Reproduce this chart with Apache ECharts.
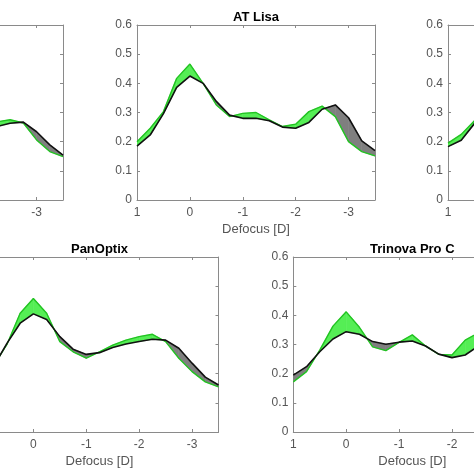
<!DOCTYPE html>
<html>
<head>
<meta charset="utf-8">
<script src="https://cdn.jsdelivr.net/npm/echarts@6/dist/echarts.min.js"></script>
<style>
html,body{margin:0;padding:0;background:#fff;}
#chart{width:474px;height:474px;}
</style>
</head>
<body>
<div id="chart"></div>
<script>
// Defocus sample positions [D]
var defocus = [1, 0.75, 0.5, 0.25, 0, -0.25, -0.5, -0.75, -1, -1.25, -1.5, -1.75, -2, -2.25, -2.5, -2.75, -3, -3.25, -3.5];
var xTicks = [1, 0, -1, -2, -3];
var yTicks = [0, 0.1, 0.2, 0.3, 0.4, 0.5, 0.6];

// Top-left panel (title cut off)
var lensA_black = [0.190,0.230,0.290,0.370,0.410,0.380,0.330,0.290,0.270,0.260,0.255,0.250,0.248,0.252,0.263,0.267,0.234,0.189,0.154];
var lensA_green = [0.200,0.250,0.300,0.400,0.450,0.380,0.320,0.280,0.280,0.275,0.265,0.262,0.265,0.268,0.275,0.264,0.206,0.166,0.149];
// AT Lisa
var lisa_black = [0.185,0.223,0.296,0.386,0.425,0.400,0.338,0.291,0.280,0.280,0.272,0.250,0.246,0.266,0.311,0.326,0.282,0.203,0.169];
var lisa_green = [0.200,0.246,0.303,0.417,0.466,0.400,0.326,0.286,0.297,0.300,0.275,0.252,0.260,0.303,0.322,0.286,0.200,0.166,0.151];
// Top-right panel (title cut off)
var lensC_black = [0.183,0.205,0.262,0.330,0.380,0.360,0.320,0.290,0.280,0.275,0.270,0.262,0.258,0.262,0.280,0.290,0.260,0.200,0.165];
var lensC_green = [0.195,0.225,0.272,0.360,0.420,0.370,0.310,0.285,0.290,0.290,0.275,0.262,0.270,0.295,0.305,0.275,0.210,0.170,0.150];
// PanOptix
var panoptix_black = [0.190,0.225,0.304,0.373,0.405,0.386,0.327,0.284,0.266,0.272,0.290,0.302,0.310,0.318,0.315,0.287,0.236,0.188,0.161];
var panoptix_green = [0.200,0.228,0.300,0.407,0.458,0.407,0.310,0.275,0.253,0.275,0.298,0.315,0.327,0.335,0.310,0.253,0.207,0.172,0.155];
// Trinova Pro C
var trinova_black = [0.195,0.224,0.275,0.319,0.344,0.335,0.310,0.301,0.308,0.312,0.295,0.267,0.255,0.264,0.295,0.310,0.270,0.205,0.168];
var trinova_green = [0.172,0.207,0.281,0.363,0.412,0.359,0.292,0.279,0.307,0.333,0.295,0.266,0.264,0.315,0.340,0.300,0.220,0.172,0.152];

var panels = [
  {title: '', black: lensA_black, green: lensA_green, left: -175, top: 25, xname: 'Defocus [D]'},
  {title: 'AT Lisa', black: lisa_black, green: lisa_green, left: 137, top: 25, xname: 'Defocus [D]'},
  {title: '', black: lensC_black, green: lensC_green, left: 448, top: 25, xname: 'Defocus [D]'},
  {title: 'PanOptix', black: panoptix_black, green: panoptix_green, left: -19.5, top: 257, xname: 'Defocus [D]'},
  {title: 'Trinova Pro C', black: trinova_black, green: trinova_green, left: 293.3, top: 257, xname: 'Defocus [D]'}
];

var FONT = "'Liberation Sans', Arial, sans-serif";
var AXIS_COLOR = '#8a8a8a';
var LABEL_COLOR = '#555555';
var GREEN_FILL = '#55ee55';
var GREEN_LINE = '#22c322';
var GRAY_FILL = '#7f7f7f';
var BLACK_LINE = '#111111';

function fmtY(v){ return String(+(+v).toFixed(1)); }

var grids = [], xAxes = [], yAxes = [], series = [];
panels.forEach(function(p, i){
  grids.push({left: p.left, top: p.top, width: 238, height: 175, containLabel: false, outerBoundsMode: 'none'});
  var common = {
    type: 'value', gridIndex: i, min: -3.5, max: 1, inverse: true,
    axisLine: {show: true, onZero: false, lineStyle: {color: AXIS_COLOR, width: 1}},
    axisTick: {show: true, inside: true, length: 3, customValues: xTicks, lineStyle: {color: AXIS_COLOR}},
    splitLine: {show: false}
  };
  xAxes.push(Object.assign({}, common, {
    position: 'bottom',
    name: p.xname, nameLocation: 'middle', nameGap: 23,
    nameTextStyle: {color: LABEL_COLOR, fontSize: 13, fontFamily: FONT},
    axisLabel: {show: true, customValues: xTicks, margin: 7, color: LABEL_COLOR, fontSize: 12, fontFamily: FONT,
      formatter: function(v){ return String(v); }}
  }));
  xAxes.push(Object.assign({}, common, {
    position: 'top',
    name: p.title, nameLocation: 'middle', nameGap: 1,
    nameTextStyle: {color: '#000', fontSize: 13, fontWeight: 'bold', fontFamily: FONT},
    axisLabel: {show: false}
  }));
  var ycommon = {
    type: 'value', gridIndex: i, min: 0, max: 0.6, interval: 0.1,
    axisLine: {show: true, onZero: false, lineStyle: {color: AXIS_COLOR, width: 1}},
    axisTick: {show: true, inside: true, length: 3, lineStyle: {color: AXIS_COLOR}},
    splitLine: {show: false}
  };
  yAxes.push(Object.assign({}, ycommon, {
    position: 'left',
    axisLabel: {show: true, margin: 5, color: LABEL_COLOR, fontSize: 12, fontFamily: FONT, formatter: fmtY}
  }));
  yAxes.push(Object.assign({}, ycommon, {
    position: 'right',
    axisLabel: {show: false}
  }));

  var segs = [];
  for (var k = 0; k < defocus.length - 1; k++) {
    segs.push([defocus[k], p.green[k], p.black[k], defocus[k+1], p.green[k+1], p.black[k+1]]);
  }
  series.push({
    type: 'custom', xAxisIndex: 2*i, yAxisIndex: 2*i, clip: true, z: 2, silent: true,
    data: segs,
    encode: {x: [0, 3], y: [1, 2, 4, 5]},
    renderItem: function(params, api){
      var x0 = api.value(0), g0 = api.value(1), b0 = api.value(2);
      var x1 = api.value(3), g1 = api.value(4), b1 = api.value(5);
      var d0 = g0 - b0, d1 = g1 - b1;
      function P(x, y){ return api.coord([x, y]); }
      function col(d){ return d >= 0 ? GREEN_FILL : GRAY_FILL; }
      function poly(pts, c){
        return {type: 'polygon', shape: {points: pts}, style: {fill: c, stroke: c, lineWidth: 0.6}};
      }
      if (d0 * d1 >= 0) {
        var d = Math.abs(d0) > Math.abs(d1) ? d0 : d1;
        return poly([P(x0, g0), P(x1, g1), P(x1, b1), P(x0, b0)], col(d));
      }
      var t = d0 / (d0 - d1);
      var xc = x0 + (x1 - x0) * t, yc = b0 + (b1 - b0) * t;
      return {type: 'group', children: [
        poly([P(x0, g0), P(xc, yc), P(x0, b0)], col(d0)),
        poly([P(xc, yc), P(x1, g1), P(x1, b1)], col(d1))
      ]};
    }
  });
  series.push({
    type: 'line', xAxisIndex: 2*i, yAxisIndex: 2*i, z: 3, silent: true,
    showSymbol: false, symbol: 'none',
    data: defocus.map(function(x, k){ return [x, p.green[k]]; }),
    lineStyle: {color: GREEN_LINE, width: 1.4}
  });
  series.push({
    type: 'line', xAxisIndex: 2*i, yAxisIndex: 2*i, z: 4, silent: true,
    showSymbol: false, symbol: 'none',
    data: defocus.map(function(x, k){ return [x, p.black[k]]; }),
    lineStyle: {color: BLACK_LINE, width: 1.6}
  });
});

var chart = echarts.init(document.getElementById('chart'), null, {renderer: 'canvas'});
chart.setOption({
  backgroundColor: '#ffffff',
  animation: false,
  textStyle: {fontFamily: FONT},
  grid: grids,
  xAxis: xAxes,
  yAxis: yAxes,
  series: series
});
</script>
</body>
</html>
